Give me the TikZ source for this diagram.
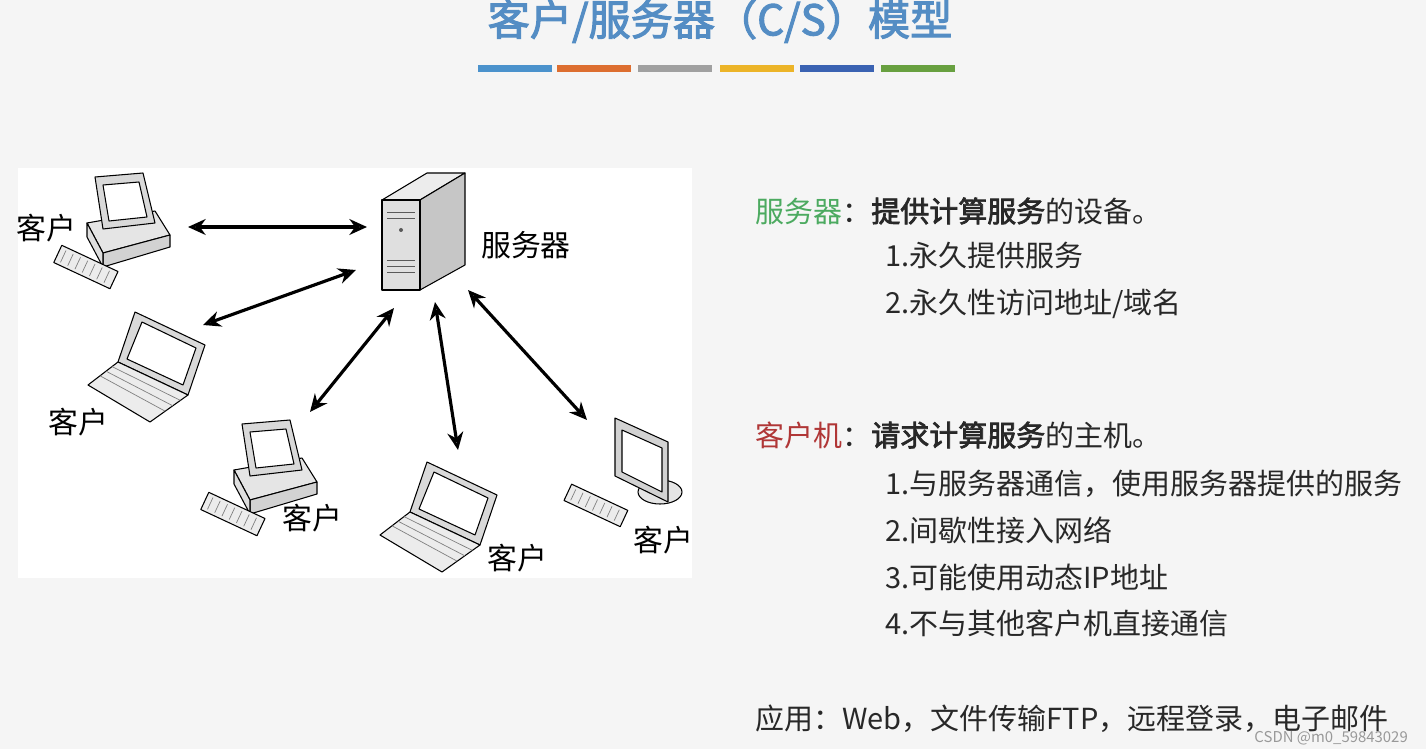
\documentclass[tikz,border=0pt]{standalone}
\usepackage{fontspec}
\setmainfont{Noto Sans CJK SC}[AutoFakeBold=2.5]
\usetikzlibrary{arrows.meta,calc}
\definecolor{titleBlue}{RGB}{84,141,196}
\definecolor{serverGreen}{RGB}{76,170,96}
\definecolor{clientRed}{RGB}{176,54,54}
\definecolor{textDark}{RGB}{40,40,40}
\definecolor{barA}{RGB}{75,146,204}
\definecolor{barB}{RGB}{221,110,48}
\definecolor{barC}{RGB}{160,160,160}
\definecolor{barD}{RGB}{236,180,40}
\definecolor{barE}{RGB}{58,98,178}
\definecolor{barF}{RGB}{104,160,64}
%% Desktop computer icon.
\newcommand{\desktopIcon}[1]{%%
  \begin{scope}[shift={#1}]
    \draw[iconStyle,fill=gray!20] (-38,8) -- (30,-4) -- (45,20) -- (-22,38) -- cycle;
    \draw[iconStyle,fill=gray!35] (-22,38) -- (45,20) -- (45,32) -- (-22,52) -- cycle;
    \draw[iconStyle,fill=gray!25] (-38,8) -- (-22,38) -- (-22,52) -- (-38,22) -- cycle;
    \draw[iconStyle,fill=gray!30] (-30,-38) -- (18,-42) -- (30,8) -- (-22,14) -- cycle;
    \draw[iconStyle,fill=white] (-22,-30) -- (14,-33) -- (22,2) -- (-16,6) -- cycle;
    \draw[iconStyle,fill=gray!15,rotate around={-25:(-38,52)}] (-70,43) rectangle (-8,62);
    \foreach \k in {-64,-56,...,-14}
      \draw[gray,rotate around={-25:(-38,52)}] (\k,46) -- (\k,59);
  \end{scope}
}
%% Laptop icon.
\newcommand{\laptopIcon}[1]{%%
  \begin{scope}[shift={#1}]
    \draw[iconStyle,fill=gray!30] (-13,-53) -- (57,-20) -- (40,30) -- (-30,-3) -- cycle;
    \draw[iconStyle,fill=white] (-6,-43) -- (48,-17) -- (35,20) -- (-21,-6) -- cycle;
    \draw[iconStyle,fill=gray!15] (-30,-3) -- (40,30) -- (2,57) -- (-60,20) -- cycle;
    \foreach \t in {0.2,0.4,0.6}
      \draw[gray] ($(-30,-3)!\t!(-60,20)$) -- ($(40,30)!\t!(2,57)$);
  \end{scope}
}
%% Flat monitor icon.
\newcommand{\monitorIcon}[1]{%%
  \begin{scope}[shift={#1}]
    \draw[iconStyle,fill=gray!20] (15,22) ellipse [x radius=22,y radius=12];
    \draw[iconStyle,fill=gray!35] (-30,-52) -- (23,-28) -- (23,32) -- (-30,6) -- cycle;
    \draw[iconStyle,fill=white] (-23,-40) -- (17,-22) -- (17,22) -- (-23,2) -- cycle;
    \draw[iconStyle,fill=gray!15,rotate around={-25:(-50,35)}] (-80,26) rectangle (-18,44);
    \foreach \k in {-74,-66,...,-24}
      \draw[gray,rotate around={-25:(-50,35)}] (\k,29) -- (\k,41);
  \end{scope}
}
%% Server tower icon.
\newcommand{\serverIcon}[1]{%%
  \begin{scope}[shift={#1}]
    \draw[iconStyle,fill=gray!15] (-41,-30) -- (4,-57) -- (42,-57) -- (-3,-30) -- cycle;
    \draw[iconStyle,fill=gray!45] (-3,-30) -- (42,-57) -- (42,35) -- (-3,60) -- cycle;
    \draw[iconStyle,fill=gray!25] (-41,-30) rectangle (-3,60);
    \foreach \k in {-18,-12,30,36,42}
      \draw[gray!70!black] (-36,\k) -- (-8,\k);
    \fill[gray!70!black] (-22,0) circle [radius=2];
  \end{scope}
}
\begin{document}
\begin{tikzpicture}[x=0.02cm,y=-0.02cm,%%
  iconStyle/.style={draw=black,line width=0.6pt,line join=round},%%
  arrowStyle/.style={{Stealth[length=10pt,width=9pt,open]}-{Stealth[length=10pt,width=9pt,open]},line width=1.8pt},%%
  labelStyle/.style={font=\fontsize{17}{20}\selectfont,text=black},%%
  textStyle/.style={anchor=west,font=\fontsize{16.5}{20}\selectfont,text=textDark,inner sep=0pt}
]
%%
%% Background and panel.
\fill[gray!8] (0,0) rectangle (1426,749);
\useasboundingbox (0,0) rectangle (1426,749);
\fill[white] (18,168) rectangle (692,578);
%%
%% Title and colour bars.
\node (title) at (720,21) {\fontsize{24}{28}\selectfont\bfseries\color{titleBlue}客户/服务器（C/S）模型};
\foreach \xs/\col in {478/barA,557/barB,638/barC,720/barD,800/barE,881/barF}
  \fill[\col] (\xs,65) rectangle ++(74,7);
%%
%% Computers.
\desktopIcon{(125,215)}
\serverIcon{(423,230)}
\laptopIcon{(148,365)}
\desktopIcon{(272,462)}
\laptopIcon{(440,515)}
\monitorIcon{(645,470)}
\node[labelStyle] (c1) at (46,228) {客户};
\node[labelStyle] (srv) at (526,245) {服务器};
\node[labelStyle] (c2) at (78,422) {客户};
\node[labelStyle] (c3) at (312,518) {客户};
\node[labelStyle] (c4) at (517,558) {客户};
\node[labelStyle] (c5) at (663,540) {客户};
%%
%% Arrows between the clients and the server.
\coordinate (a1) at (188,227); \coordinate (b1) at (367,227);
\coordinate (a2) at (203,325); \coordinate (b2) at (356,270);
\coordinate (a3) at (310,412); \coordinate (b3) at (394,308);
\coordinate (a4) at (458,450); \coordinate (b4) at (435,302);
\coordinate (a5) at (587,420); \coordinate (b5) at (468,290);
\foreach \i in {1,...,5}
  \draw[arrowStyle] (a\i) -- (b\i);
%%
%% Description on the right.
\node[textStyle] (t1) at (755,211) {\textcolor{serverGreen}{服务器}：\textbf{提供计算服务}的设备。};
\node[textStyle] (t2) at (885,256) {1.永久提供服务};
\node[textStyle] (t3) at (885,304) {2.永久性访问地址/域名};
\node[textStyle] (t4) at (755,435) {\textcolor{clientRed}{客户机}：\textbf{请求计算服务}的主机。};
\node[textStyle] (t5) at (885,484) {1.与服务器通信，使用服务器提供的服务};
\node[textStyle] (t6) at (885,530) {2.间歇性接入网络};
\node[textStyle] (t7) at (885,577) {3.可能使用动态IP地址};
\node[textStyle] (t8) at (885,623) {4.不与其他客户机直接通信};
\node[textStyle] (t9) at (755,719) {应用：Web，文件传输FTP，远程登录，电子邮件};
\node[anchor=east,font=\fontsize{8.5}{10}\selectfont,text=gray!80] (mark) at (1414,738) {CSDN @m0\_59843029};
\end{tikzpicture}
\end{document}
